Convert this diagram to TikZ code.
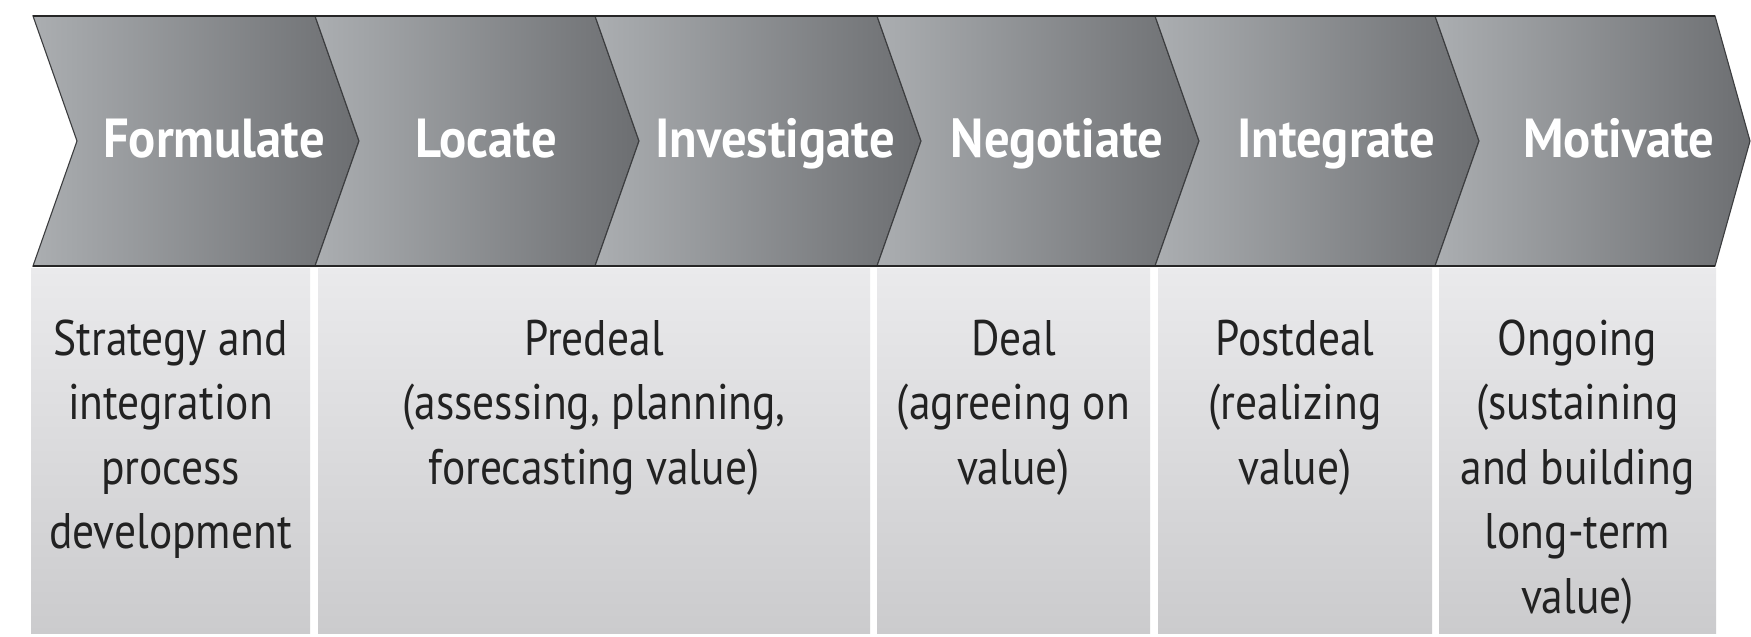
\documentclass[tikz,border=0pt]{standalone}
\usepackage{fontspec}
\setmainfont{PT Sans}
\newfontfamily\labelfont[FakeStretch=0.92]{PT Sans}
\newfontfamily\bodyfont[FakeStretch=0.87]{PT Sans}
\definecolor{chevL}{HTML}{ABAEB1}
\definecolor{chevR}{HTML}{6C6E71}
\definecolor{chevEdge}{HTML}{3C3D3F}
\definecolor{boxT}{HTML}{EAEAEC}
\definecolor{boxB}{HTML}{CBCBCD}
\definecolor{bodytext}{HTML}{222222}
\tikzset{
  chevron/.style={left color=chevL, right color=chevR, draw=chevEdge, line width=1.1pt, line join=miter},
  stagebox/.style={top color=boxT, bottom color=boxB},
  steplabel/.style={anchor=base, inner sep=0pt, text=white, font=\labelfont\bfseries\fontsize{55}{62}\selectfont},
  phasetext/.style={anchor=north, inner sep=0pt, align=center, text=bodytext, font=\bodyfont\fontsize{50}{64.5}\selectfont},
  bandline/.style={draw=black!85, line width=2.4pt}
}
\begin{document}
\begin{tikzpicture}[x=1pt,y=-1pt]
\useasboundingbox (0,0) rectangle (1751,637);
\clip (0,0) rectangle (1751,637);
\fill[white] (0,0) rectangle (1751,637);
% lower boxes
\shade[stagebox] (31,268) rectangle (310,633);
\shade[stagebox] (318,268) rectangle (870,633);
\shade[stagebox] (877,268) rectangle (1150,633);
\shade[stagebox] (1158,268) rectangle (1432,633);
\shade[stagebox] (1439,268) rectangle (1716,633);
% chevrons
\foreach \L/\R/\d in {33/315/44, 315/595/44, 595/877/44, 877/1155/44, 1155/1435/44, 1435/1715/35}{
  \shade[chevron] (\L,16) -- (\R,16) -- ({\R+\d},141) -- (\R,266) -- (\L,266) -- ({\L+44},141) -- cycle;
}
\draw[bandline] (33,16) -- (1715,16);
\draw[bandline] (33,266) -- (1715,266);
% step labels
\node[steplabel] (formulate) at (214,157) {Formulate};
\node[steplabel] (locate) at (486,157) {Locate};
\node[steplabel] (investigate) at (775,157) {Investigate};
\node[steplabel] (negotiate) at (1057,157) {Negotiate};
\node[steplabel] (integrate) at (1336,157) {Integrate};
\node[steplabel] (motivate) at (1619,157) {Motivate};
% phase texts
\node[phasetext] (strategy) at (170.5,309.85) {\strut Strategy and\\integration\\process\\development};
\node[phasetext] (predeal) at (594,309.85) {\strut Predeal\\(assessing, planning,\\forecasting value)};
\node[phasetext] (deal) at (1013.5,309.85) {\strut Deal\\(agreeing on\\value)};
\node[phasetext] (postdeal) at (1295,309.85) {\strut Postdeal\\(realizing\\value)};
\node[phasetext] (ongoing) at (1577.5,309.85) {\strut Ongoing\\(sustaining\\and building\\long-term\\value)};
\end{tikzpicture}
\end{document}
